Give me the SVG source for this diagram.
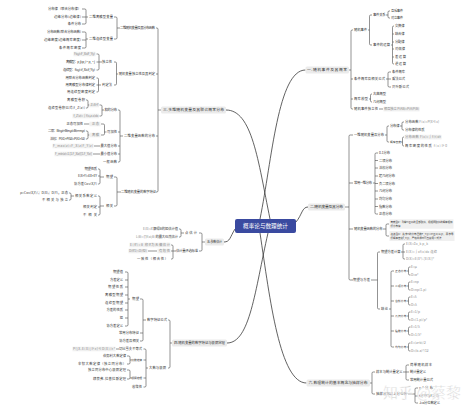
<svg xmlns="http://www.w3.org/2000/svg" width="474" height="412" viewBox="0 0 474 412">
<style>
text{font-family:"Noto Sans CJK SC","Noto Sans",sans-serif;font-size:3.3px;fill:#333}
.e{text-anchor:end}
.g{fill:#8c8c8c}
.m{font-size:3.8px;fill:#333}
.s{font-size:2.8px}
.n{font-size:2.5px}
.hb{fill:#f0f0f0}
.mb{fill:#ebebeb}
#conn path{fill:none;stroke:#4a4a4a;stroke-width:.6}
#conn .cv{stroke-width:.8;stroke:#3a3a3a}
.wm{font-size:15px;fill:#c8c8c8;fill-opacity:.75;stroke:#fff;stroke-width:.4}
</style>
<rect width="474" height="412" fill="#fff"/>
<g id="conn">
<path class="cv" d="M260 219C272 160 278 70 305.5 70"/>
<path class="cv" d="M270 219C258 160 252 110 226 110"/>
<path class="cv" d="M296 222C302 215 302 207 308 207"/>
<path class="cv" d="M235 229C230 237 230 242 224 242"/>
<path class="cv" d="M268 233C255 290 250 343 227 343"/>
<path class="cv" d="M260 233C270 300 280 383 306.5 383"/>
<path d="M349 70H351M353 30H352.2Q351 30 351 31.2V107.8Q351 109 352.2 109H353M351 79H353M351 99H353"/>
<path d="M368 30H369.5M372 15H370.7Q369.5 15 369.5 16.2V43.8Q369.5 45 370.7 45H372"/>
<path d="M386 15H388M390 11H389.2Q388 11 388 12.2V16.8Q388 18 389.2 18H390"/>
<path d="M391 45H392.5M394 26H393.7Q392.5 26 392.5 27.2V62.8Q392.5 64 393.7 64H394M392.5 34H394M392.5 42H394M392.5 49H394M392.5 57H394"/>
<path d="M386 79H388M391 72H389.2Q388 72 388 73.2V85.8Q388 87 389.2 87H391M388 79H391"/>
<path d="M369 99H370.5M372 94H371.7Q370.5 94 370.5 95.2V100.8Q370.5 102 371.7 102H372"/>
<path d="M379 109H383"/>
<path d="M345 207H349M353 135H350.2Q349 135 349 136.2V278.8Q349 280 350.2 280H353M349 183H353M349 229H353"/>
<path d="M385 135H387M389 126H388.2Q387 126 387 127.2V140.8Q387 142 388.2 142H389"/>
<path d="M400 126H402M404 122H403.2Q402 122 402 123.2V128.8Q402 130 403.2 130H404"/>
<path d="M401 142H402.5M404 137H403.7Q402.5 137 402.5 138.2V144.8Q402.5 146 403.7 146H404"/>
<path d="M373 183H375M378 153H376.2Q375 153 375 154.2V212.8Q375 214 376.2 214H378M375 160.5H378M375 168H378M375 176H378M375 183.5H378M375 191H378M375 199H378M375 206.5H378"/>
<path d="M383 229H386M389 224H387.2Q386 224 386 225.2V234.8Q386 236 387.2 236H389"/>
<path d="M371 280H377.5M380 252H378.7Q377.5 252 377.5 253.2V307.8Q377.5 309 378.7 309H380"/>
<path d="M401 252H403M405 244H404.2Q403 244 403 245.2V257.8Q403 259 404.2 259H405M403 252H405"/>
<path d="M389 309H391M394 271H392.2Q391 271 391 272.2V345.8Q391 347 392.2 347H394M391 286H394M391 301H394M391 316H394M391 331H394"/>
<path d="M407 271H408.5M410.5 267H409.7Q408.5 267 408.5 268.2V273.8Q408.5 275 409.7 275H410.5"/>
<path d="M407 286H408.5M410.5 282H409.7Q408.5 282 408.5 283.2V288.8Q408.5 290 409.7 290H410.5"/>
<path d="M407 301H408.5M410.5 297H409.7Q408.5 297 408.5 298.2V303.8Q408.5 305 409.7 305H410.5"/>
<path d="M407 316H408.5M410.5 312H409.7Q408.5 312 408.5 313.2V318.8Q408.5 320 409.7 320H410.5"/>
<path d="M407 331H408.5M410.5 327H409.7Q408.5 327 408.5 328.2V333.8Q408.5 335 409.7 335H410.5"/>
<path d="M407 347H408.5M410.5 343H409.7Q408.5 343 408.5 344.2V349.8Q408.5 351 409.7 351H410.5"/>
<path d="M370 383H372M375 372H373.2Q372 372 372 373.2V392.8Q372 394 373.2 394H375"/>
<path d="M403 372H406M409 365H407.2Q406 365 406 366.2V378.8Q406 380 407.2 380H409M406 372H409"/>
<path d="M408 394H415M418 388H416.2Q415 388 415 389.2V401.8Q415 403 416.2 403H418M415 396H418"/>
<path d="M161 110H158M156 28H156.8Q158 28 158 29.2V190.8Q158 192 156.8 192H156M158 74H156M158 136H156"/>
<path d="M120 28H117M114 17H115.8Q117 17 117 18.2V37.8Q117 39 115.8 39H114"/>
<path d="M88 17H86M82 9H84.8Q86 9 86 10.2V22.8Q86 24 84.8 24H82M86 17H82"/>
<path d="M88 39H86M82 32H84.8Q86 32 86 33.2V46.8Q86 48 84.8 48H82M86 40H82"/>
<path d="M118 74H116.5M114 62H115.3Q116.5 62 116.5 63.2V83.8Q116.5 85 115.3 85H114"/>
<path d="M102 62H99M96.5 54H97.8Q99 54 99 55.2V68.8Q99 70 97.8 70H96.5M99 62H96.5"/>
<path d="M101 85H98.5M96.5 78H97.3Q98.5 78 98.5 79.2V90.8Q98.5 92 97.3 92H96.5M98.5 85H96.5"/>
<path d="M123 136H120M118 110H118.8Q120 110 120 111.2V160.8Q120 162 118.8 162H118M120 132H118M120 146H118M120 154H118"/>
<path d="M104 110H102M99.5 105H100.8Q102 105 102 106.2V114.8Q102 116 100.8 116H99.5"/>
<path d="M89.5 105H88M86 100H86.8Q88 100 88 101.2V106.8Q88 108 86.8 108H86"/>
<path d="M106.5 132H104.5M101 124H103.3Q104.5 124 104.5 125.2V133.8Q104.5 135 103.3 135H101"/>
<path d="M89.5 124H84"/>
<path d="M89.5 135H88M86 131H86.8Q88 131 88 132.2V137.8Q88 139 86.8 139H86"/>
<path d="M100 146H94M100 154H93"/>
<path d="M121 192H117M114 177H115.8Q117 177 117 178.2V204.8Q117 206 115.8 206H114"/>
<path d="M104 177H100M98 169H98.8Q100 169 100 170.2V182.8Q100 184 98.8 184H98M100 176H98"/>
<path d="M104 206H100M98 196H98.8Q100 196 100 197.2V213.8Q100 215 98.8 215H98M100 207H98"/>
<path d="M74 196H71M69 193H69.8Q71 193 71 194.2V198.8Q71 200 69.8 200H69"/>
<path d="M205 242H202M199 233H200.8Q202 233 202 234.2V249.8Q202 251 200.8 251H199"/>
<path d="M184 233H181M179 229H179.8Q181 229 181 230.2V235.8Q181 237 179.8 237H179"/>
<path d="M176 251H173M171 245H171.8Q173 245 173 246.2V257.8Q173 259 171.8 259H171M173 251H171"/>
<path d="M157 251H148"/>
<path d="M172 343H170M168 320H168.8Q170 320 170 321.2V366.8Q170 368 168.8 368H168"/>
<path d="M146 320H143M140 299H141.8Q143 299 143 300.2V339.8Q143 341 141.8 341H140M143 333H140"/>
<path d="M130 299H128M125 272H126.8Q128 272 128 273.2V324.8Q128 326 126.8 326H125M128 280H125M128 287H125M128 295H125M128 303H125M128 310H125M128 318H125"/>
<path d="M148 368H146M143.5 349H144.8Q146 349 146 350.2V385.8Q146 387 144.8 387H143.5M146 360H143.5M146 378H143.5"/>
<path d="M119 349H116"/>
<path d="M132 360H130M127 356H128.8Q130 356 130 357.2V362.8Q130 364 128.8 364H127"/>
<path d="M132 378H130M127 370H128.8Q130 370 130 371.2V377.8Q130 379 128.8 379H127"/>
</g>

<g id="center"><rect x="235" y="219" width="61" height="14" rx="2" fill="#3a4aa0"/><text x="265.5" y="228" text-anchor="middle" style="font-size:5.6px;fill:#fff">概率论与数理统计</text></g>

<g id="b1"><rect class="mb" x="305.5" y="66.5" width="43.5" height="7" rx="1.5"/><text class="m" x="307" y="71.3" textLength="40">一.随机事件及其概率</text></g>
<g id="b2"><rect class="mb" x="308" y="203.5" width="37" height="7" rx="1.5"/><text class="m" x="310" y="208.3" textLength="33">二.随机变量及其分布</text></g>
<g id="b3"><rect class="mb" x="161" y="106.5" width="65" height="7" rx="1.5"/><text class="m" x="163" y="111.3" textLength="61">三.多维随机变量及其联合概率分布</text></g>
<g id="b4"><rect class="mb" x="172" y="339.5" width="55" height="7" rx="1.5"/><text class="m" x="174" y="344.3" textLength="51" style="font-size:3.4px">四.随机变量的数字特征与极限定理</text></g>
<g id="b5"><rect class="mb" x="205" y="238.5" width="19" height="7" rx="1.5"/><text class="m" x="207" y="243.2" textLength="15" style="font-size:3px">五.参数估计</text></g>
<g id="b6"><rect class="mb" x="306.5" y="379.5" width="63.5" height="7" rx="1.5"/><text class="m" x="308.5" y="384.3" textLength="59">六.数理统计的基本概念与抽样分布</text></g>

<g id="n1a"><text x="354" y="31.2" textLength="13">随机事件</text></g>
<g id="n1a1"><text x="373" y="16.2" textLength="12.5">事件关系</text></g>
<g id="n1a1a"><text x="391" y="12.2" textLength="12">互斥事件</text></g>
<g id="n1a1b"><text x="391" y="19.2" textLength="12">对立事件</text></g>
<g id="n1a2"><text x="373" y="46.2" textLength="17">事件的运算</text></g>
<g id="n1a2a"><text x="395" y="27.2" textLength="9.5">交换律</text></g>
<g id="n1a2b"><text x="395" y="35.2" textLength="9.5">结合律</text></g>
<g id="n1a2c"><text x="395" y="43.2" textLength="9.5">分配律</text></g>
<g id="n1a2d"><text x="395" y="50.2" textLength="10">对偶律</text></g>
<g id="n1a2e"><text x="395" y="58.2" textLength="11">差运算</text></g>
<g id="n1a2f"><text x="395" y="65.2" textLength="11">逆运算</text></g>
<g id="n1b"><text x="354" y="80.2" textLength="31">条件概率及相关公式</text></g>
<g id="n1b1"><text x="392" y="73.2" textLength="13">条件概率</text></g>
<g id="n1b2"><text x="392" y="80.2" textLength="13">乘法公式</text></g>
<g id="n1b3"><text x="392" y="88.2" textLength="17">贝叶斯公式</text></g>
<g id="n1c"><text x="354" y="100.2" textLength="14">概率模型</text></g>
<g id="n1c1"><text x="373" y="95.2" textLength="13">古典概型</text></g>
<g id="n1c2"><text x="373" y="103.2" textLength="13">几何概型</text></g>
<g id="n1d"><text x="354" y="110.2" textLength="24">随机事件独立性</text></g>
<g id="n1d1"><rect class="hb" x="383.5" y="106.8" width="36" height="4.6"/><text class="g" x="384" y="110.2" textLength="35">相互独立 P(AB)=P(A)P(B)</text></g>

<g id="n2a"><text x="354" y="136.2" textLength="30">一维随机变量及分布</text></g>
<g id="n2a1"><text x="390" y="127.2" textLength="9.5">分布律</text></g>
<g id="n2a1a"><text x="405" y="123.2" textLength="34">分布函数 <tspan class="g">F(x)=P{X≤x}</tspan></text></g>
<g id="n2a1b"><text x="405" y="131.2" textLength="19.5">分布律的性质</text></g>
<g id="n2a2"><text class="s" x="390" y="143" textLength="11">概率密度</text></g>
<g id="n2a2a"><rect class="hb" x="404.5" y="134.8" width="37" height="4.6"/><text class="g" x="405" y="138.2" textLength="36">分布函数 F(x)=∫f(t)dt</text></g>
<g id="n2a2b"><text x="405" y="147.2" textLength="42">概率密度的性质 <tspan class="g">f(x)≥0</tspan></text></g>
<g id="n2b"><text x="354" y="184.2" textLength="18">常用一维分布</text></g>
<g id="n2b1"><text x="379" y="154.2" textLength="11">0-1分布</text></g>
<g id="n2b2"><text x="379" y="161.7" textLength="13">二项分布</text></g>
<g id="n2b3"><text x="379" y="169.2" textLength="13">泊松分布</text></g>
<g id="n2b4"><text x="379" y="177.2" textLength="16">超几何分布</text></g>
<g id="n2b5"><text x="379" y="184.7" textLength="16">负二项分布</text></g>
<g id="n2b6"><text x="379" y="192.2" textLength="13">几何分布</text></g>
<g id="n2b7"><text x="379" y="200.2" textLength="13">均匀分布</text></g>
<g id="n2b8"><text x="379" y="207.7" textLength="13">指数分布</text></g>
<g id="n2b9"><text x="379" y="215.2" textLength="13">正态分布</text></g>
<g id="n2c"><text x="354" y="230.2" textLength="28.5">随机变量函数的分布</text></g>
<g id="n2c1"><rect class="hb" x="389.5" y="219.3" width="64" height="9.4"/><text class="n" x="390.5" y="222.8" textLength="62">离散型X：列举Y=g(X)的全部取值，把相同取值的概率相加</text><text class="n" x="390.5" y="227.3" textLength="10">得分布律</text></g>
<g id="n2c2"><rect class="hb" x="389.5" y="231" width="65" height="10"/><text class="n" x="390.5" y="234.6" textLength="63">连续型X：先求Y的分布函数F_Y(y)=P{g(X)≤y}，再求导</text><text class="n" x="390.5" y="239.4" textLength="51">得概率密度f_Y(y)，严格单调时可直接用公式法</text></g>
<g id="n2d"><text x="353" y="281.2" textLength="17">期望与方差</text></g>
<g id="n2d1"><text x="381" y="253.2" textLength="19.5">期望方差计算</text></g>
<g id="n2d1a"><text class="g" x="406" y="245.2" textLength="22">E(X)=Σx_k p_k</text></g>
<g id="n2d1b"><text class="g" x="406" y="253.2" textLength="31">E(X)=∫xf(x)dx 连续</text></g>
<g id="n2d1c"><text class="g" x="406" y="260.2" textLength="28">D(X)=E(X²)-[E(X)]²</text></g>
<g id="n2d2"><text x="381" y="310.2" textLength="7">结论</text></g>
<g id="n2d2a"><text class="s" x="395" y="272.1" textLength="11.5">正态分布</text></g>
<g id="n2d2b"><text class="s" x="395" y="287.1" textLength="11.5">二项分布</text></g>
<g id="n2d2c"><text class="s" x="395" y="302.1" textLength="11.5">泊松分布</text></g>
<g id="n2d2d"><text class="s" x="395" y="317.1" textLength="11.5">几何分布</text></g>
<g id="n2d2e"><text class="s" x="395" y="332.1" textLength="11.5">指数分布</text></g>
<g id="n2d2f"><text class="s" x="395" y="348.1" textLength="11.5">均匀分布</text></g>
<g id="n2d2a1"><text class="g" x="411" y="268.2">E=μ</text></g>
<g id="n2d2a2"><text class="g" x="411" y="276.2">D=σ²</text></g>
<g id="n2d2b1"><text class="g" x="411" y="283.2">E=np</text></g>
<g id="n2d2b2"><text class="g" x="411" y="291.2">D=np(1-p)</text></g>
<g id="n2d2c1"><text class="g" x="411" y="298.2">E=λ</text></g>
<g id="n2d2c2"><text class="g" x="411" y="306.2">D=λ</text></g>
<g id="n2d2d1"><text class="g" x="411" y="313.2">E=1/p</text></g>
<g id="n2d2d2"><text class="g" x="411" y="321.2">D=(1-p)/p²</text></g>
<g id="n2d2e1"><text class="g" x="411" y="328.2">E=1/λ</text></g>
<g id="n2d2e2"><text class="g" x="411" y="336.2">D=1/λ²</text></g>
<g id="n2d2f1"><text class="g" x="411" y="344.2">E=(a+b)/2</text></g>
<g id="n2d2f2"><text class="g" x="411" y="352.2">D=(b-a)²/12</text></g>

<g id="n6a"><text x="376" y="373.2" textLength="26.5">样本与统计量定义</text></g>
<g id="n6a1"><text x="410" y="366.2" textLength="22">简单随机样本</text></g>
<g id="n6a2"><text x="410" y="373.2" textLength="16">统计量定义</text></g>
<g id="n6a3"><text x="410" y="381.2" textLength="23">常用统计量公式</text></g>
<g id="n6b"><text x="376" y="395.2" textLength="31">抽样分布及上分位数</text></g>
<g id="n6b1"><text x="419" y="389.2" textLength="14">χ²分布</text></g>
<g id="n6b2"><text x="419" y="397.2" textLength="20">t分布与F分布</text></g>
<g id="n6b3"><text x="419" y="404.2" textLength="21">上α分位数定义</text></g>

<g id="n3a"><text class="e" x="155" y="29.2" textLength="35">二维随机变量及其分布函数</text></g>
<g id="n3a1"><text class="e" x="113" y="18.2" textLength="24">二维离散型变量</text></g>
<g id="n3a1a"><text class="e" x="81" y="10.2" textLength="33">分布律（联合分布律）</text></g>
<g id="n3a1b"><text class="e" x="81" y="18.2" textLength="27">边缘分布(边缘律)</text></g>
<g id="n3a1c"><text class="e" x="81" y="25.2" textLength="13.2">条件分布</text></g>
<g id="n3a2"><text class="e" x="113" y="40.2" textLength="24">二维连续型变量</text></g>
<g id="n3a2a"><text class="e" x="81" y="33.2" textLength="34">分布函数(联合分布函数)</text></g>
<g id="n3a2b"><text class="e" x="81" y="41.2" textLength="37">边缘密度(边缘概率密度)</text></g>
<g id="n3a2c"><text class="e" x="81" y="49.2" textLength="22">条件概率密度</text></g>
<g id="n3b"><text class="e" x="155" y="75.2" textLength="36.3">随机变量独立性及其判定</text></g>
<g id="n3b1"><text class="e" x="112" y="63.2" textLength="9.9">独立性</text></g>
<g id="n3b1a"><rect class="hb" x="73.5" y="51.7" width="22" height="4.6"/><text class="e g" x="95" y="55.2" textLength="21">F(x,y)=F_X(x)F_Y(y)</text></g>
<g id="n3b1b"><text class="e" x="95" y="63.2" textLength="29">离散型：p_ij=p_i·p_·j</text></g>
<g id="n3b1c"><text class="e" x="95" y="71.2" textLength="32">连续型：f(x,y)=f_X(x)f_Y(y)</text></g>
<g id="n3b2"><text class="e" x="112" y="86.2" textLength="9.9">判定法</text></g>
<g id="n3b2a"><text class="e" x="95" y="79.2" textLength="29.5">用联合分布函数判定</text></g>
<g id="n3b2b"><text class="e" x="95" y="86.2" textLength="29.5">用离散型分布律判定</text></g>
<g id="n3b2c"><text class="e" x="95" y="93.2" textLength="28">用连续型密度判定</text></g>
<g id="n3c"><text class="e" x="155" y="137.2" textLength="31">二维变量函数的分布</text></g>
<g id="n3c1"><text class="e" x="117" y="111.2" textLength="12.5">和的分布</text></g>
<g id="n3c1a"><rect class="hb" x="89.5" y="102.7" width="9.5" height="4.6"/><text class="e g" x="98.5" y="106.2" textLength="8">Z=X+Y</text></g>
<g id="n3c1a1"><text class="e" x="85" y="101.2" textLength="18">离散型卷积</text></g>
<g id="n3c1a2"><text class="e" x="85" y="109.2" textLength="37">连续型卷积公式(f_Z(z))</text></g>
<g id="n3c1b"><rect class="hb" x="72.5" y="113.7" width="26.5" height="4.6"/><text class="e g" x="98.5" y="117.2" textLength="25">f_Z(z)=∫f(x,z-x)dx</text></g>
<g id="n3c2"><text class="e" x="117" y="133.2" textLength="9.9">可加性</text></g>
<g id="n3c2a"><rect class="hb" x="89.5" y="121.7" width="11" height="4.6"/><text class="e g" x="99" y="125.2" textLength="7">正态</text></g>
<g id="n3c2a1"><text class="e" x="83" y="125.2" textLength="16.5">正态可加性</text></g>
<g id="n3c2b"><rect class="hb" x="89.5" y="132.7" width="11" height="4.6"/><text class="e g" x="99" y="136.2" textLength="7">离散</text></g>
<g id="n3c2b1"><text class="e" x="85" y="132.2" textLength="37">二项：B(n,p)+B(m,p)=B(n+m,p)</text></g>
<g id="n3c2b2"><text class="e" x="85" y="140.2" textLength="35">泊松：P(λ1)+P(λ2)=P(λ1+λ2)</text></g>
<g id="n3c3"><text class="e" x="117" y="147.2" textLength="16.5">最大值分布</text></g>
<g id="n3c3a"><rect class="hb" x="52.5" y="143.7" width="41" height="4.6"/><text class="e g" x="93" y="147.2" textLength="40">F_max(z)=F_X(z)F_Y(z)</text></g>
<g id="n3c4"><text class="e" x="117" y="155.2" textLength="16.5">最小值分布</text></g>
<g id="n3c4a"><rect class="hb" x="54.5" y="151.7" width="38" height="4.6"/><text class="e g" x="92" y="155.2" textLength="37">F_min(z)=1-[1-F_X(z)][1-F_Y(z)]</text></g>
<g id="n3c5"><text class="e" x="117" y="163.2" textLength="14">一般函数</text></g>
<g id="n3d"><text class="e" x="156" y="193.2" textLength="35">二维随机变量的数字特征</text></g>
<g id="n3d1"><text class="e" x="113" y="178.2" textLength="7">期望</text></g>
<g id="n3d1a"><text class="e" x="97" y="170.2" textLength="12.5">期望性质</text></g>
<g id="n3d1b"><text class="e" x="97" y="177.2" textLength="19">E(X+Y)=EX+EY</text></g>
<g id="n3d1c"><text class="e" x="97" y="185.2" textLength="23">协方差Cov(X,Y)</text></g>
<g id="n3d2"><text class="e" x="113" y="207.2" textLength="7">相关</text></g>
<g id="n3d2a"><text class="e" x="97" y="197.2" textLength="22">相关系数定义</text></g>
<g id="n3d2a1"><text class="e" x="68" y="194.2" textLength="48">ρ=Cov(X,Y)/√D(X)√D(Y)，正态</text></g>
<g id="n3d2a2"><text class="e" x="68" y="201.2" textLength="26">不相关与独立</text></g>
<g id="n3d2b"><text class="e" x="97" y="208.2" textLength="14">相关判定</text></g>
<g id="n3d2c"><text class="e" x="97" y="216.2" textLength="14">不相关</text></g>

<g id="n5a"><text class="e" x="197" y="234.2" textLength="12">点估计</text></g>
<g id="n5a1"><text class="e" x="178" y="230.2" textLength="35"><tspan class="g">E(X)=X̄</tspan> 解得θ的矩估计值</text></g>
<g id="n5a2"><text class="e" x="178" y="238.2" textLength="42"><tspan class="g">L(θ)=∏f(xi;θ)</tspan> 的最大似然估计</text></g>
<g id="n5b"><text class="e" x="198" y="252.2" textLength="22">估计量评选标准</text></g>
<g id="n5b1"><rect class="hb" x="129.5" y="242.7" width="41" height="4.6"/><text class="e g" x="170" y="246.2" textLength="40">E(θ̂)=θ 称θ̂为无偏估计</text></g>
<g id="n5b2"><rect class="hb" x="128.5" y="248.7" width="19" height="4.6"/><text class="e g" x="147" y="252.2" textLength="18">D(θ̂1)&lt;D(θ̂2)</text></g>
<g id="n5b2a"><rect class="hb" x="157.5" y="248.7" width="13" height="4.6"/><text class="e g" x="170" y="252.2" textLength="11">有效性</text></g>
<g id="n5b3"><text class="e" x="168" y="260.2" textLength="31">一致性（相合性）</text></g>

<g id="n4a"><text class="e" x="167" y="321.2" textLength="20">数字特征公式</text></g>
<g id="n4a1"><text class="e" x="139" y="300.2" textLength="7">期望</text></g>
<g id="n4a1a"><text class="e" x="123" y="273.2" textLength="10">期望值</text></g>
<g id="n4a1b"><text class="e" x="123" y="281.2" textLength="13">方差定义</text></g>
<g id="n4a1c"><text class="e" x="123" y="288.2" textLength="15">期望性质</text></g>
<g id="n4a1d"><text class="e" x="123" y="296.2" textLength="18">离散型期望</text></g>
<g id="n4a1e"><text class="e" x="123" y="304.2" textLength="18">连续型期望</text></g>
<g id="n4a1f"><text class="e" x="123" y="311.2" textLength="16.5">方差的性质</text></g>
<g id="n4a1g"><text class="e" x="123" y="319.2" textLength="4">矩</text></g>
<g id="n4a1h"><text class="e" x="123" y="327.2" textLength="16.5">协方差定义</text></g>
<g id="n4a2"><text class="e" x="139" y="334.2" textLength="20">常用分布特征</text></g>
<g id="n4a3"><text class="e" x="139" y="342.2" textLength="19.8">协方差及相关</text></g>
<g id="n4b"><text class="e" x="166" y="369.2" textLength="17">大数与极限</text></g>
<g id="n4b1"><text class="e" x="142" y="350.2" textLength="23">切比雪夫不等式</text></g>
<g id="n4b1a"><rect class="hb" x="72.5" y="346.7" width="43" height="4.6"/><text class="e g" x="115" y="350.2" textLength="42">P{|X-E(X)|≥ε}≤D(X)/ε²</text></g>
<g id="n4b2"><text class="e s" x="142" y="361" textLength="10.5">大数定律</text></g>
<g id="n4b2a"><text class="e" x="126" y="357.2" textLength="23">伯努利大数定律</text></g>
<g id="n4b2b"><text class="e" x="126" y="365.2" textLength="48">辛钦大数定律（独立同分布）</text></g>
<g id="n4b3"><text class="e s" x="142" y="379" textLength="10.5">极限定理</text></g>
<g id="n4b3a"><text class="e" x="126" y="371.2" textLength="38">独立同分布中心极限定理</text></g>
<g id="n4b3b"><text class="e" x="126" y="380.2" textLength="33">棣莫弗-拉普拉斯定理</text></g>
<g id="n4b4"><text class="e" x="142" y="388.2" textLength="10">收敛性</text></g>

<g id="watermark"><text class="wm" x="383" y="398" textLength="78">知乎 @蔡黎</text></g>
</svg>
